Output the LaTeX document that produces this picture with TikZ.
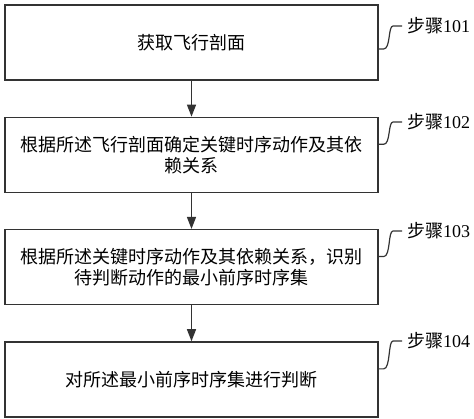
\documentclass[tikz,border=0pt]{standalone}
\usepackage{fontspec}
\setmainfont{Liberation Serif}
\newfontfamily\cjk{Noto Sans CJK SC}
\usetikzlibrary{positioning,arrows.meta}
\tikzset{
  passo/.style   = {rectangle, draw=black!80, line width=1.3pt, minimum width=373pt, minimum height=75pt, text width=368pt, align=center, inner sep=0, font=\cjk\fontsize{18}{21}\selectfont},
  freccia/.style = {draw=black!80, line width=1.3pt, -{Triangle[length=12pt,width=9pt]}},
  onda/.style    = {draw=black!80, line width=1.2pt},
  etic/.style    = {anchor=west, inner sep=0, font=\fontsize{18}{21}\selectfont}
}

\begin{document}
\begin{tikzpicture}[x=1pt,y=1pt, node distance=36pt]

  \useasboundingbox (0,0) rectangle (474,-419);

  % riquadri dei passi
  \node[passo] (s1) at (191.5,-42.5) {获取飞行剖面};
  \node[passo, below=of s1] (s2) {根据所述飞行剖面确定关键时序动作及其依\\赖关系};
  \node[passo, below=of s2] (s3) {根据所述关键时序动作及其依赖关系，识别\\待判断动作的最小前序时序集};
  \node[passo, below=of s3] (s4) {对所述最小前序时序集进行判断};

  % frecce
  \draw[freccia] (s1) -- (s2);
  \draw[freccia] (s2) -- (s3);
  \draw[freccia] (s3) -- (s4);

  % etichette
  \node[etic] (l1) at (407,-26)  {{\cjk 步骤}101};
  \node[etic] (l2) at (407,-122) {{\cjk 步骤}102};
  \node[etic] (l3) at (407,-231) {{\cjk 步骤}103};
  \node[etic] (l4) at (407,-341) {{\cjk 步骤}104};

  \coordinate (a1) at ([yshift=-6.5pt]s1.east);
  \coordinate (a2) at ([yshift=10.5pt]s2.east);
  \coordinate (a3) at ([yshift=10.5pt]s3.east);
  \coordinate (a4) at ([yshift=10.5pt]s4.east);

  % onde
  \draw[onda] (a1) -- ++(5,0) .. controls +(7,0) and +(-5,0) .. ([xshift=-14pt]l1.west) -- ([xshift=-5pt]l1.west);
  \draw[onda] (a2) -- ++(5,0) .. controls +(7,0) and +(-5,0) .. ([xshift=-14pt]l2.west) -- ([xshift=-5pt]l2.west);
  \draw[onda] (a3) -- ++(5,0) .. controls +(7,0) and +(-5,0) .. ([xshift=-14pt]l3.west) -- ([xshift=-5pt]l3.west);
  \draw[onda] (a4) -- ++(5,0) .. controls +(7,0) and +(-5,0) .. ([xshift=-14pt]l4.west) -- ([xshift=-5pt]l4.west);

\end{tikzpicture}
\end{document}
